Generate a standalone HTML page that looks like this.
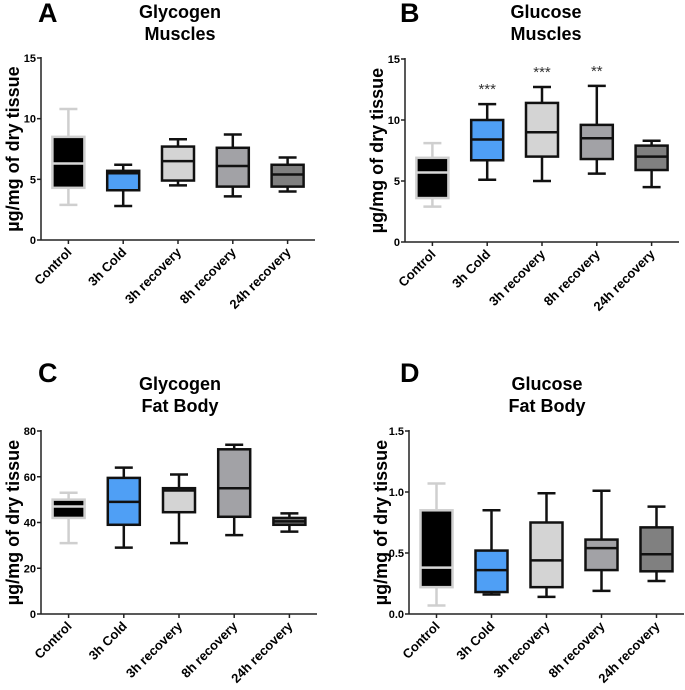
<!DOCTYPE html>
<html><head><meta charset="utf-8"><style>
body{margin:0;background:#fff}
svg{display:block;font-family:"Liberation Sans",Arial,sans-serif}
</style></head><body>
<svg id="fig" width="685" height="690" viewBox="0 0 685 690"></svg>
<script>
const categories=["Control","3h Cold","3h recovery","8h recovery","24h recovery"];
const fills=["#000000","#4f9ff5","#d4d4d4","#a2a2a6","#808080"];
// [min,q1,median,q3,max] per category
const glyMusA=[[2.9,4.3,6.3,8.5,10.8],[2.8,4.1,5.5,5.7,6.2],[4.5,4.9,6.5,7.7,8.3],[3.6,4.4,6.1,7.6,8.7],[4.0,4.4,5.4,6.2,6.8]];
const gluMusB=[[2.9,3.6,5.7,6.9,8.1],[5.1,6.7,8.4,10.0,11.3],[5.0,7.0,9.0,11.4,12.7],[5.6,6.8,8.5,9.6,12.8],[4.5,5.9,7.0,7.9,8.3]];
const glyFatC=[[31,42,47,50,53],[29,39,49,59.5,64],[31,44.5,54,55,61],[34.5,42.5,55,72,74],[36,39,40.5,42,44]];
const gluFatD=[[0.07,0.22,0.38,0.85,1.07],[0.16,0.18,0.36,0.52,0.85],[0.14,0.22,0.44,0.75,0.99],[0.19,0.36,0.54,0.61,1.01],[0.27,0.35,0.49,0.71,0.88]];
const ticksA=[0,5,10,15], ticksB=[0,5,10,15], ticksC=[0,20,40,60,80], ticksD=[0,0.5,1.0,1.5];
const tickLabA=["0","5","10","15"], tickLabC=["0","20","40","60","80"], tickLabD=["0.0","0.5","1.0","1.5"];
const starsB=["","***","***","**",""];
const NS="http://www.w3.org/2000/svg";
const svg=document.getElementById('fig');
function mk(tag,attrs,parent){const e=document.createElementNS(NS,tag);for(const k in attrs)e.setAttribute(k,attrs[k]);(parent||svg).appendChild(e);return e;}
function panel(o){
  const g=mk('g',{});
  
  
  const ymax=o.ticks[o.ticks.length-1];
  const y=v=>o.y0-(v/ymax)*(o.y0-o.y1);
  const step=(o.xe-o.ax)/5;
  const x=i=>o.ax+step*(i+0.5);
  let t=mk('text',{x:o.lx,y:o.ly,'font-size':27,'font-weight':'bold'},g);t.textContent=o.letter;
  
  o.title.forEach((s,k)=>{const tt=mk('text',{x:o.tx,y:o.ty+k*22,'font-size':18,'font-weight':'bold','text-anchor':'middle'},g);tt.textContent=s;
    });
  const yl=mk('text',{transform:`translate(${o.ax-22},${(o.y0+o.y1)/2}) rotate(-90)`,'font-size':18,'font-weight':'bold','text-anchor':'middle'},g);
  yl.textContent="µg/mg of dry tissue";
  
  mk('line',{x1:o.ax,y1:o.y1-1,x2:o.ax,y2:o.y0,stroke:'#222','stroke-width':1.5},g);
  mk('line',{x1:o.ax,y1:o.y0,x2:o.xe,y2:o.y0,stroke:'#222','stroke-width':1.5},g);
  o.ticks.forEach((v,k)=>{mk('line',{x1:o.ax-4,y1:y(v),x2:o.ax,y2:y(v),stroke:'#222','stroke-width':1.5},g);
    const tl=mk('text',{x:o.ax-5,y:y(v)+4,'font-size':11,'font-weight':'bold','text-anchor':'end'},g);tl.textContent=o.tickLab[k];
    });
  const bw=32;
  o.data.forEach((d,i)=>{
    const cx=x(i);
    const sc=i===0?'#cfcfcf':'#111';
    const med=i===0?'#d8d8d8':'#111';
    mk('line',{x1:cx,y1:o.y0,x2:cx,y2:o.y0+4,stroke:'#222','stroke-width':1.5},g);
    const bg=mk('g',{},g);
    
    
    mk('line',{x1:cx,y1:y(d[0]),x2:cx,y2:y(d[1]),stroke:sc,'stroke-width':2.5},bg);
    mk('line',{x1:cx,y1:y(d[3]),x2:cx,y2:y(d[4]),stroke:sc,'stroke-width':2.5},bg);
    mk('line',{x1:cx-9,y1:y(d[0]),x2:cx+9,y2:y(d[0]),stroke:sc,'stroke-width':2.5},bg);
    mk('line',{x1:cx-9,y1:y(d[4]),x2:cx+9,y2:y(d[4]),stroke:sc,'stroke-width':2.5},bg);
    mk('rect',{x:cx-bw/2,y:y(d[3]),width:bw,height:y(d[1])-y(d[3]),fill:fills[i],stroke:sc,'stroke-width':2.5},bg);
    mk('line',{x1:cx-bw/2,y1:y(d[2]),x2:cx+bw/2,y2:y(d[2]),stroke:med,'stroke-width':2.5},bg);
    if(o.stars&&o.stars[i]){const st=mk('text',{x:cx,y:y(d[4])-10,'font-size':15,'text-anchor':'middle',fill:'#333'},g);st.textContent=o.stars[i];
      }
    const xl=mk('text',{transform:`translate(${cx+4},${o.y0+13}) rotate(-45)`,'font-size':13,'font-weight':'bold','text-anchor':'end'},g);
    xl.textContent=categories[i];
    
  });
}
panel({name:'panel-a',letter:'A',lx:38,ly:22,title:['Glycogen','Muscles'],tx:180,ty:18,ax:41,xe:315,y0:240,y1:58,ticks:ticksA,tickLab:tickLabA,data:glyMusA});
panel({name:'panel-b',letter:'B',lx:400,ly:22,title:['Glucose','Muscles'],tx:546,ty:18,ax:405,xe:679,y0:242,y1:59,ticks:ticksB,tickLab:tickLabA,data:gluMusB,stars:starsB});
panel({name:'panel-c',letter:'C',lx:38,ly:382,title:['Glycogen','Fat Body'],tx:180,ty:390,ax:41,xe:317,y0:614,y1:431,ticks:ticksC,tickLab:tickLabC,data:glyFatC});
panel({name:'panel-d',letter:'D',lx:400,ly:382,title:['Glucose','Fat Body'],tx:547,ty:390,ax:409,xe:684,y0:614,y1:431,ticks:ticksD,tickLab:tickLabD,data:gluFatD});
</script>
</body></html>
